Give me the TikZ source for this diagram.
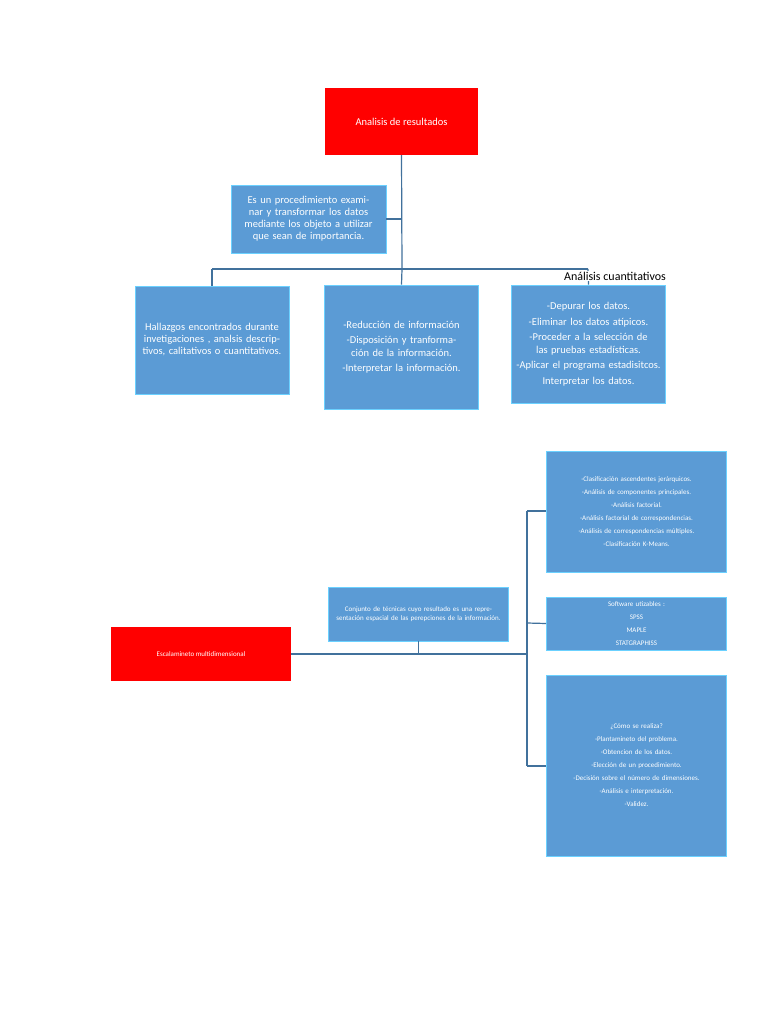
\documentclass[tikz,border=0pt]{standalone}
\usepackage{fontspec}
\setmainfont{Carlito}
\begin{document}
\begin{tikzpicture}[x=1pt,y=-1pt,
  blue/.style={draw=white!70!blue!60!cyan,line width=0.8pt,fill={rgb,255:red,91;green,155;blue,213},text=white,align=center,inner sep=2pt},
  red/.style={fill=red,text=white,align=center},
  ln/.style={draw={rgb,255:red,65;green,113;blue,156},line width=1.2pt}]
\path[use as bounding box,fill=white] (0,0) rectangle (768,1024);
\node[red,minimum width=153,minimum height=67,font=\fontsize{10.5}{12}\selectfont] (ar) at (401.5,121.5) {Analisis de resultados};
\node[blue,minimum width=155,minimum height=68,text width=150,font=\fontsize{10.5}{12}\selectfont] (def) at (308.5,219) {Es un procedimiento examinar y transformar los datos mediante los objeto a utilizar que sean de importancia.};
\node[blue,minimum width=154,minimum height=108,text width=148,font=\fontsize{10.5}{12}\selectfont] (b1) at (212,340) {Hallazgos encontrados durante invetigaciones , analsis descriptivos, calitativos o cuantitativos.};
\node[blue,minimum width=153,minimum height=124,text width=150,font=\fontsize{10.5}{13}\selectfont] (b2) at (401.5,347) {-Reducción de información\\[2pt]-Disposición y tranformación de la información.\\[2pt]-Interpretar la información.};
\node[blue,minimum width=153,minimum height=118,text width=150,font=\fontsize{10.5}{12.5}\selectfont] (b3) at (588.5,344) {-Depurar los datos.\\[3pt]-Eliminar los datos atípicos.\\[3pt]-Proceder a la selección de las pruebas estadísticas.\\[3pt]-Aplicar el programa estadisitcos.\\[3pt]Interpretar los datos.};
\coordinate (t) at (402,269);
\coordinate (tl) at (212,269);
\coordinate (tr) at (588,269);
\draw[ln] (ar.south) -- (t);
\draw[ln] (def.east) -- (402,219);
\draw[ln] (tl) -- (tr);
\draw[ln] (tl) -- (b1.north);
\draw[ln] (t) -- (b2.north);
\draw[ln] (tr) -- (b3.north);
\node[font=\fontsize{12}{14}\selectfont,fill=white,inner sep=1pt] (lab) at (615,276) {Análisis cuantitativos};

\node[red,minimum width=180,minimum height=54,font=\fontsize{7}{8}\selectfont] (em) at (201,654) {Escalamineto multidimensional};
\node[blue,minimum width=179,minimum height=54,text width=176,font=\fontsize{7}{8.5}\selectfont] (cj) at (418.5,614) {Conjunto de técnicas cuyo resultado es una representación espacial de las perepciones de la información.};
\node[blue,minimum width=179,minimum height=121,text width=176,font=\fontsize{7}{13}\selectfont] (c1) at (636.5,511.5) {-Clasificación ascendentes jerárquicos.\\-Análisis de componentes principales.\\-Análisis factorial.\\-Análisis factorial de correspondencias.\\-Análisis de correspondencias múltiples.\\-Clasificación K-Means.};
\node[blue,minimum width=179,minimum height=53,text width=176,font=\fontsize{7}{13}\selectfont] (c2) at (636.5,623.5) {Software utizables :\\SPSS\\MAPLE\\STATGRAPHISS};
\node[blue,minimum width=179,minimum height=181,text width=176,font=\fontsize{7}{13}\selectfont] (c3) at (636.5,765.5) {¿Cómo se realiza?\\-Plantamineto del problema.\\-Obtencion de los datos.\\-Elección de un procedimiento.\\-Decisión sobre el número de dimensiones.\\-Análisis e interpretación.\\-Validez.};
\coordinate (j) at (527,654);
\coordinate (jt) at (527,511);
\coordinate (jb) at (527,766);
\draw[ln] (em.east) -- (j);
\draw[ln] (cj.south) -- (cj.south |- j);
\draw[ln] (jt) -- (jb);
\draw[ln] (jt) -- (c1.west |- jt);
\draw[ln] (527,623) -- (c2.west);
\draw[ln] (jb) -- (c3.west |- jb);
\end{tikzpicture}
\end{document}
